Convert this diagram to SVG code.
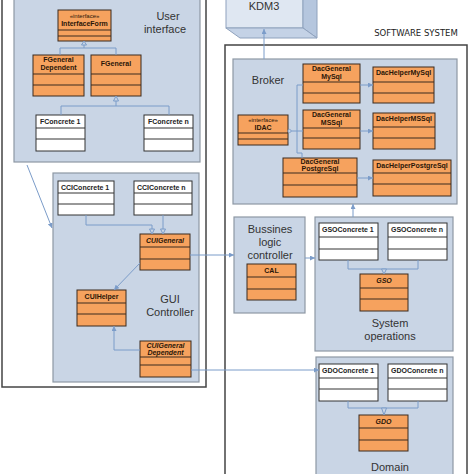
<svg xmlns="http://www.w3.org/2000/svg" width="474" height="474" viewBox="0 0 474 474">
<defs>
<style>
.bg{fill:#fff}
.outer{fill:#fff;stroke:#444;stroke-width:1.5}
.panel{fill:#c9d5e5;stroke:#8e98a4;stroke-width:1.2}
.cls{fill:#f6a25e;stroke:#3b2a1e;stroke-width:1}
.wcls{fill:#fff;stroke:#333;stroke-width:1}
.sep{stroke:#3b2a1e;stroke-width:1}
.wsep{stroke:#333;stroke-width:1}
.conn{fill:none;stroke:#7b9cc9;stroke-width:1}
.tri{fill:#c9d5e5;stroke:#7b9cc9;stroke-width:1}
.ct{font-family:"Liberation Sans",Arial,sans-serif;font-size:7px;font-weight:bold;fill:#2a1608;text-anchor:middle}
.wt{font-family:"Liberation Sans",Arial,sans-serif;font-size:7px;font-weight:bold;fill:#222}
.st{font-family:"Liberation Sans",Arial,sans-serif;font-size:6px;fill:#2a1608;text-anchor:middle}
.it{font-style:italic}
.pl{font-family:"Liberation Sans",Arial,sans-serif;font-size:11px;fill:#333;text-anchor:middle}
</style>
<marker id="arr" viewBox="0 0 6 6" refX="6" refY="3" markerWidth="5" markerHeight="5" markerUnits="userSpaceOnUse" orient="auto">
<path d="M0,0 L6,3 L0,6 z" fill="#7b9cc9"/>
</marker>
</defs>
<rect class="bg" x="0" y="0" width="474" height="474"/>

<!-- Left outer system -->
<rect class="outer" x="2" y="-5" width="204" height="392"/>

<g id="user-interface">
<rect class="panel" x="14" y="-5" width="186" height="167"/>
<text class="pl" x="168" y="20">User</text>
<text class="pl" x="165" y="33">interface</text>
</g>

<g id="InterfaceForm">
<rect class="cls" x="58" y="10" width="53" height="31"/>
<line class="sep" x1="58" y1="30" x2="111" y2="30"/>
<line class="sep" x1="58" y1="36" x2="111" y2="36"/>
<text class="st" x="84.5" y="18">«interface»</text>
<text class="ct" x="84.5" y="26">InterfaceForm</text>
</g>
<g id="FGeneralDependent">
<rect class="cls" x="33" y="55" width="51" height="41"/>
<line class="sep" x1="33" y1="74" x2="84" y2="74"/>
<line class="sep" x1="33" y1="85" x2="84" y2="85"/>
<text class="ct" x="58.5" y="62">FGeneral</text>
<text class="ct" x="58.5" y="70">Dependent</text>
</g>
<g id="FGeneral">
<rect class="cls" x="91" y="55" width="50" height="41"/>
<line class="sep" x1="91" y1="74" x2="141" y2="74"/>
<line class="sep" x1="91" y1="85" x2="141" y2="85"/>
<text class="ct" x="116" y="66">FGeneral</text>
</g>
<g id="FConcrete1">
<rect class="wcls" x="36" y="115" width="49" height="36"/>
<line class="wsep" x1="36" y1="128" x2="85" y2="128"/>
<line class="wsep" x1="36" y1="139" x2="85" y2="139"/>
<text class="wt" x="40" y="124">FConcrete 1</text>
</g>
<g id="FConcreteN">
<rect class="wcls" x="144" y="115" width="49" height="36"/>
<line class="wsep" x1="144" y1="128" x2="193" y2="128"/>
<line class="wsep" x1="144" y1="139" x2="193" y2="139"/>
<text class="wt" x="148" y="124">FConcrete n</text>
</g>

<g id="gui-controller">
<rect class="panel" x="53" y="173" width="146" height="209"/>
<text class="pl" x="170" y="303">GUI</text>
<text class="pl" x="170" y="316">Controller</text>
</g>
<g id="CCIConcrete1">
<rect class="wcls" x="58" y="181" width="56" height="34"/>
<line class="wsep" x1="58" y1="193" x2="114" y2="193"/>
<line class="wsep" x1="58" y1="204" x2="114" y2="204"/>
<text class="wt" x="61" y="190">CCIConcrete 1</text>
</g>
<g id="CCIConcreteN">
<rect class="wcls" x="134" y="181" width="58" height="34"/>
<line class="wsep" x1="134" y1="193" x2="192" y2="193"/>
<line class="wsep" x1="134" y1="204" x2="192" y2="204"/>
<text class="wt" x="137" y="190">CCIConcrete n</text>
</g>
<g id="CUIGeneral">
<rect class="cls" x="140" y="234" width="50" height="36"/>
<line class="sep" x1="140" y1="247" x2="190" y2="247"/>
<line class="sep" x1="140" y1="259" x2="190" y2="259"/>
<text class="ct it" x="165" y="243">CUIGeneral</text>
</g>
<g id="CUIHelper">
<rect class="cls" x="77" y="290" width="49" height="36"/>
<line class="sep" x1="77" y1="303" x2="126" y2="303"/>
<line class="sep" x1="77" y1="314" x2="126" y2="314"/>
<text class="ct" x="101.5" y="299">CUIHelper</text>
</g>
<g id="CUIGeneralDependent">
<rect class="cls" x="140" y="341" width="51" height="36"/>
<line class="sep" x1="140" y1="357" x2="191" y2="357"/>
<line class="sep" x1="140" y1="365" x2="191" y2="365"/>
<text class="ct it" x="165.5" y="348">CUIGeneral</text>
<text class="ct it" x="165.5" y="355">Dependent</text>
</g>

<!-- Software system -->
<g id="kdm3">
<rect x="226" y="-10" width="77" height="38" fill="#dfe7f2" stroke="#8fa2bd" stroke-width="1"/>
<polygon points="303,-10 317,0 317,38 303,28" fill="#b5c6de" stroke="#8fa2bd" stroke-width="1"/>
<polygon points="226,28 303,28 317,38 240,38" fill="#c4d2e6" stroke="#8fa2bd" stroke-width="1"/>
<text class="pl" x="264" y="10">KDM3</text>
</g>
<g id="software-system">
<rect class="outer" x="225" y="45" width="242" height="440"/>
<text x="416" y="36" font-family="'DejaVu Sans',Verdana,sans-serif" font-size="8.5px" fill="#222" text-anchor="middle">SOFTWARE SYSTEM</text>
</g>

<g id="broker">
<rect class="panel" x="233" y="59" width="224" height="145"/>
<text class="pl" x="268" y="84">Broker</text>
</g>
<g id="IDAC">
<rect class="cls" x="238" y="115" width="50" height="30"/>
<line class="sep" x1="238" y1="133" x2="288" y2="133"/>
<line class="sep" x1="238" y1="139" x2="288" y2="139"/>
<text class="st" x="263" y="122">«interface»</text>
<text class="ct" x="263" y="130">IDAC</text>
</g>
<g id="DacGeneralMySql">
<rect class="cls" x="303" y="64" width="57" height="39"/>
<line class="sep" x1="303" y1="82" x2="360" y2="82"/>
<line class="sep" x1="303" y1="93" x2="360" y2="93"/>
<text class="ct" x="331.5" y="71">DacGeneral</text>
<text class="ct" x="331.5" y="79">MySql</text>
</g>
<g id="DacHelperMySql">
<rect class="cls" x="373" y="67" width="61" height="36"/>
<line class="sep" x1="373" y1="82" x2="434" y2="82"/>
<line class="sep" x1="373" y1="93" x2="434" y2="93"/>
<text class="ct" x="403.5" y="75">DacHelperMySql</text>
</g>
<g id="DacGeneralMSSql">
<rect class="cls" x="303" y="110" width="57" height="39"/>
<line class="sep" x1="303" y1="128" x2="360" y2="128"/>
<line class="sep" x1="303" y1="138" x2="360" y2="138"/>
<text class="ct" x="331.5" y="117">DacGeneral</text>
<text class="ct" x="331.5" y="125">MSSql</text>
</g>
<g id="DacHelperMSSql">
<rect class="cls" x="373" y="113" width="62" height="36"/>
<line class="sep" x1="373" y1="127" x2="435" y2="127"/>
<line class="sep" x1="373" y1="138" x2="435" y2="138"/>
<text class="ct" x="404" y="121">DacHelperMSSql</text>
</g>
<g id="DacGeneralPostgreSql">
<rect class="cls" x="283" y="158" width="74" height="39"/>
<line class="sep" x1="283" y1="173" x2="357" y2="173"/>
<line class="sep" x1="283" y1="185" x2="357" y2="185"/>
<text class="ct" x="320" y="164">DacGeneral</text>
<text class="ct" x="320" y="171">PostgreSql</text>
</g>
<g id="DacHelperPostgreSql">
<rect class="cls" x="373" y="160" width="78" height="36"/>
<line class="sep" x1="373" y1="173" x2="451" y2="173"/>
<line class="sep" x1="373" y1="184" x2="451" y2="184"/>
<text class="ct" x="412" y="168">DacHelperPostgreSql</text>
</g>

<g id="business-logic">
<rect class="panel" x="234" y="217" width="71" height="96"/>
<text class="pl" x="270" y="233">Bussines</text>
<text class="pl" x="270" y="246">logic</text>
<text class="pl" x="270" y="259">controller</text>
</g>
<g id="CAL">
<rect class="cls" x="247" y="264" width="49" height="36"/>
<line class="sep" x1="247" y1="277" x2="296" y2="277"/>
<line class="sep" x1="247" y1="289" x2="296" y2="289"/>
<text class="ct" x="271.5" y="273">CAL</text>
</g>

<g id="system-operations">
<rect class="panel" x="315" y="217" width="138" height="134"/>
<text class="pl" x="390" y="327">System</text>
<text class="pl" x="390" y="340">operations</text>
</g>
<g id="GSOConcrete1">
<rect class="wcls" x="319" y="223" width="59" height="37"/>
<line class="wsep" x1="319" y1="237" x2="378" y2="237"/>
<line class="wsep" x1="319" y1="249" x2="378" y2="249"/>
<text class="wt" x="322" y="232">GSOConcrete 1</text>
</g>
<g id="GSOConcreteN">
<rect class="wcls" x="388" y="223" width="59" height="37"/>
<line class="wsep" x1="388" y1="237" x2="447" y2="237"/>
<line class="wsep" x1="388" y1="249" x2="447" y2="249"/>
<text class="wt" x="391" y="232">GSOConcrete n</text>
</g>
<g id="GSO">
<rect class="cls" x="360" y="274" width="48" height="37"/>
<line class="sep" x1="360" y1="288" x2="408" y2="288"/>
<line class="sep" x1="360" y1="299" x2="408" y2="299"/>
<text class="ct it" x="384" y="283">GSO</text>
</g>

<g id="domain">
<rect class="panel" x="316" y="357" width="137" height="130"/>
<text class="pl" x="390" y="471">Domain</text>
</g>
<g id="GDOConcrete1">
<rect class="wcls" x="319" y="364" width="59" height="37"/>
<line class="wsep" x1="319" y1="378" x2="378" y2="378"/>
<line class="wsep" x1="319" y1="389" x2="378" y2="389"/>
<text class="wt" x="322" y="373">GDOConcrete 1</text>
</g>
<g id="GDOConcreteN">
<rect class="wcls" x="388" y="364" width="59" height="37"/>
<line class="wsep" x1="388" y1="378" x2="447" y2="378"/>
<line class="wsep" x1="388" y1="389" x2="447" y2="389"/>
<text class="wt" x="391" y="373">GDOConcrete n</text>
</g>
<g id="GDO">
<rect class="cls" x="359" y="415" width="49" height="36"/>
<line class="sep" x1="359" y1="428" x2="408" y2="428"/>
<line class="sep" x1="359" y1="440" x2="408" y2="440"/>
<text class="ct it" x="383.5" y="424">GDO</text>
</g>

<g id="connectors">
<path class="conn" d="M60 55 V48 H116 V55 M84 48 V45"/>
<polygon class="tri" points="84,41 81.5,45 86.5,45"/>
<path class="conn" d="M61 115 V106 H169 V115 M116 106 V101"/>
<polygon class="tri" points="116,96 113.5,101 118.5,101"/>
<path class="conn" d="M27 165 L52 228" marker-end="url(#arr)"/>
<path class="conn" d="M86 215 V225 H152 V229 M163 215 V229"/>
<polygon class="tri" points="149.5,229 154.5,229 152,234"/>
<polygon class="tri" points="160.5,229 165.5,229 163,234"/>
<path class="conn" d="M140 263 L114 290" marker-end="url(#arr)"/>
<path class="conn" d="M140 350 H114 V326" marker-end="url(#arr)"/>
<path class="conn" d="M190 255 H234" marker-end="url(#arr)"/>
<path class="conn" d="M191 370 H319" marker-end="url(#arr)"/>
<path class="conn" d="M305 258 H315" marker-end="url(#arr)"/>
<path class="conn" d="M353 217 V204" marker-end="url(#arr)"/>
<path class="conn" d="M264 59 V29" marker-end="url(#arr)"/>
<path class="conn" d="M290 131 H297 M297 85 V153 H302 V158 M297 85 H303 M297 131 H303"/>
<circle cx="289.5" cy="131" r="1.6" fill="#c9d5e5" stroke="#7b9cc9" stroke-width="0.8"/>
<path class="conn" d="M360 85 H373" marker-end="url(#arr)"/>
<path class="conn" d="M360 131 H373" marker-end="url(#arr)"/>
<path class="conn" d="M357 178 H373" marker-end="url(#arr)"/>
<path class="conn" d="M348 260 V269 H418 V260"/>
<polygon class="tri" points="381.5,269 386.5,269 384,274"/>
<path class="conn" d="M348 401 V408 H418 V401"/>
<polygon class="tri" points="381.5,408 386.5,408 384,415"/>
</g>
</svg>
